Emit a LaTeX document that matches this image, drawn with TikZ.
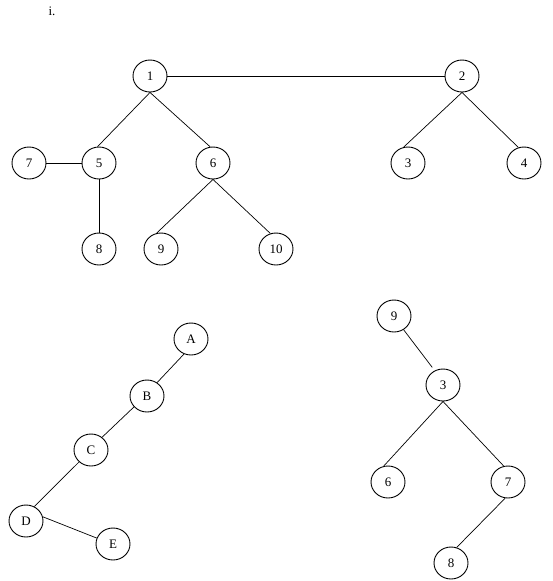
\documentclass[tikz,border=0pt]{standalone}
\usepackage{fontspec}
\setmainfont{Liberation Serif}
\usetikzlibrary{shapes.geometric,positioning}
\tikzset{main node/.style={ellipse,draw,line width=0.9pt,minimum width=34pt,minimum height=32pt,inner sep=0pt,font=\fontsize{13}{15}\selectfont},
         edge line/.style={line width=0.7pt},
         plain label/.style={rectangle,draw=none,fill=none,inner sep=0pt,font=\fontsize{13}{15}\selectfont}
}
\begin{document}
\begin{tikzpicture}[x=1pt,y=-1pt]
\useasboundingbox (0,0) rectangle (552,581);

\node [plain label] (title) at (52,11) {i.};

% first tree
\node [main node] (1) at (150,76) {1};
\node [main node] (2) at (462,76) {2};
\node [main node] (7) at (29,163) {7};
\node [main node] (5) at (99,163) {5};
\node [main node] (6) at (213,163) {6};
\node [main node] (3) at (408,163) {3};
\node [main node] (4) at (524,163) {4};
\node [main node] (8) at (99,249) {8};
\node [main node] (9) at (161,249) {9};
\node [main node] (10) at (276,249) {10};

\draw [edge line] (1.east) -- (2.west);
\draw [edge line] (1.south) -- (5.95);
\draw [edge line] (1.south) -- (6.100);
\draw [edge line] (7.east) -- (5.west);
\draw [edge line] (5.south) -- (8.north);
\draw [edge line] (6.south) -- (9.105);
\draw [edge line] (6.south) -- (10.110);
\draw [edge line] (2.south) -- (3.105);
\draw [edge line] (2.south) -- (4.110);

% second tree
\node [main node] (A) at (191,339) {A};
\node [main node] (B) at (147,396) {B};
\node [main node] (C) at (91,450) {C};
\node [main node] (D) at (26,521) {D};
\node [main node] (E) at (113,544) {E};

\draw [edge line] (A.245) -- (B.53);
\draw [edge line] (B.220) -- (C.49);
\draw [edge line] (C.225) -- (D.60);
\draw [edge line] (D.14) -- (E.160);

% third tree
\node [main node] (r9) at (394,316) {9};
\node [main node] (r3) at (443,385) {3};
\node [main node] (r6) at (388,482) {6};
\node [main node] (r7) at (508,482) {7};
\node [main node] (r8) at (451,563) {8};

\draw [edge line, shorten >=4pt] (r9.305) -- (r3.120);
\draw [edge line] (r3.south) -- (r6.105);
\draw [edge line] (r3.south) -- (r7.105);
\draw [edge line] (r7.260) -- (r8.70);
\end{tikzpicture}
\end{document}
